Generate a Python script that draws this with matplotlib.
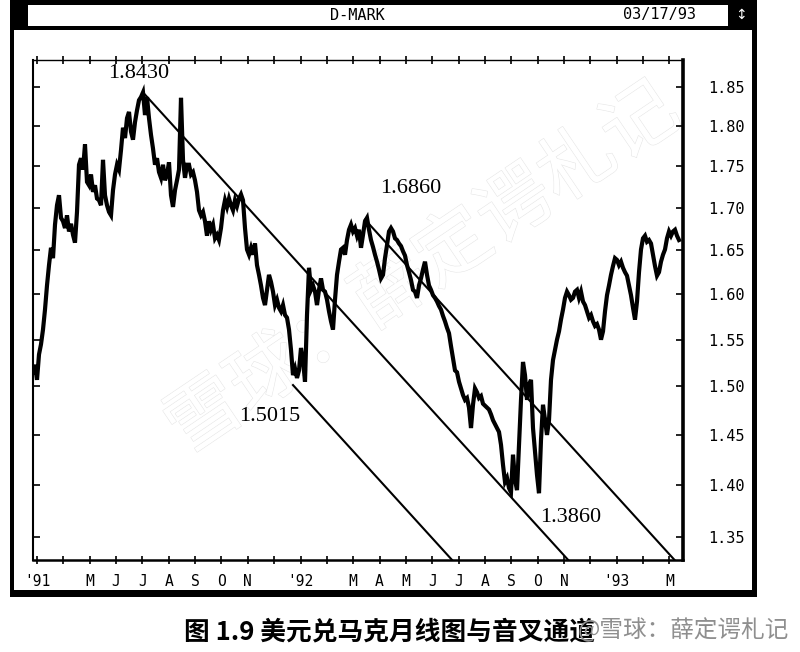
import numpy as np
import matplotlib
matplotlib.use("Agg")
import matplotlib.pyplot as plt
from matplotlib.patches import Rectangle
import matplotlib.patheffects as pe

# ---------------- data ----------------
# D-MARK price, one sample per bar, Jan 1991 .. Mar 1993
PRICE = [
    1.515, 1.523, 1.507, 1.534, 1.545, 1.561, 1.583, 1.610, 1.633, 1.653,
    1.641, 1.680, 1.703, 1.715, 1.688, 1.684, 1.676, 1.691, 1.672, 1.681,
    1.668, 1.659, 1.695, 1.752, 1.760, 1.746, 1.777, 1.731, 1.727, 1.740,
    1.719, 1.727, 1.711, 1.709, 1.703, 1.758, 1.715, 1.703, 1.695, 1.691,
    1.721, 1.740, 1.752, 1.746, 1.770, 1.798, 1.785, 1.810, 1.818, 1.793,
    1.783, 1.805, 1.820, 1.833, 1.837, 1.843, 1.814, 1.837, 1.810, 1.789,
    1.772, 1.752, 1.760, 1.743, 1.736, 1.752, 1.733, 1.740, 1.755, 1.715,
    1.701, 1.721, 1.733, 1.746, 1.836, 1.758, 1.736, 1.752, 1.752, 1.740,
    1.743, 1.733, 1.719, 1.697, 1.691, 1.695, 1.684, 1.667, 1.684, 1.674,
    1.680, 1.664, 1.668, 1.662, 1.676, 1.697, 1.709, 1.701, 1.711, 1.703,
    1.697, 1.709, 1.702, 1.711, 1.716, 1.709, 1.676, 1.651, 1.645, 1.653,
    1.645, 1.658, 1.633, 1.622, 1.610, 1.596, 1.588, 1.605, 1.622, 1.614,
    1.603, 1.588, 1.594, 1.585, 1.581, 1.588, 1.577, 1.574, 1.561, 1.539,
    1.512, 1.519, 1.509, 1.517, 1.541, 1.528, 1.505, 1.577, 1.630, 1.605,
    1.610, 1.603, 1.588, 1.605, 1.618, 1.605, 1.603, 1.594, 1.581, 1.570,
    1.561, 1.594, 1.622, 1.637, 1.651, 1.653, 1.645, 1.662, 1.674, 1.680,
    1.672, 1.676, 1.667, 1.674, 1.653, 1.668, 1.684, 1.688, 1.674, 1.662,
    1.654, 1.645, 1.637, 1.628, 1.618, 1.622, 1.641, 1.656, 1.672, 1.676,
    1.672, 1.664, 1.662, 1.658, 1.655, 1.649, 1.644, 1.633, 1.625, 1.616,
    1.605, 1.603, 1.596, 1.610, 1.618, 1.628, 1.637, 1.622, 1.610, 1.605,
    1.599, 1.596, 1.592, 1.587, 1.583, 1.576, 1.570, 1.563, 1.557, 1.543,
    1.530, 1.517, 1.515, 1.505, 1.498, 1.491, 1.486, 1.488, 1.478, 1.457,
    1.481, 1.498, 1.494, 1.488, 1.490, 1.482, 1.480, 1.478, 1.476, 1.471,
    1.465, 1.461, 1.457, 1.453, 1.440, 1.420, 1.403, 1.407, 1.397, 1.393,
    1.430, 1.405, 1.395, 1.440, 1.486, 1.526, 1.512, 1.486, 1.502, 1.507,
    1.457, 1.433, 1.410, 1.392, 1.445, 1.481, 1.465, 1.450, 1.465, 1.507,
    1.528, 1.539, 1.550, 1.559, 1.572, 1.583, 1.596, 1.603, 1.599, 1.594,
    1.596, 1.603, 1.605, 1.596, 1.603, 1.592, 1.588, 1.581, 1.574, 1.577,
    1.570, 1.565, 1.567, 1.561, 1.550, 1.559, 1.581, 1.599, 1.610, 1.622,
    1.632, 1.641, 1.639, 1.633, 1.637, 1.630, 1.625, 1.621, 1.610, 1.599,
    1.585, 1.572, 1.592, 1.625, 1.651, 1.664, 1.667, 1.660, 1.662, 1.658,
    1.645, 1.632, 1.621, 1.625, 1.637, 1.645, 1.651, 1.664, 1.672, 1.667,
    1.672, 1.674, 1.667, 1.662,
]

X_TICK_LABELS = ["'91", "", "M", "J", "J", "A", "S", "O", "N", "", "'92", "",
                 "M", "A", "M", "J", "J", "A", "S", "O", "N", "", "'93", "", "M"]
Y_TICKS = [1.35, 1.40, 1.45, 1.50, 1.55, 1.60, 1.65, 1.70, 1.75, 1.80, 1.85]

# Andrews pitchfork pivots (bar index, price, label)
PIVOT_BARS = [55, 130, 166]
PIVOT_PRICES = [1.8430, 1.5015, 1.6860]
PIVOT_LABELS = ["1.8430", "1.5015", "1.6860"]
LOW_LABEL = "1.3860"
CHANNEL_SLOPE = -0.00154   # change of ln(price) per bar

TITLE = "D-MARK"
DATE = "03/17/93"
CAPTION = "图 1.9 美元兑马克月线图与音叉通道"
WATERMARK = "@雪球：薛定谔札记"

# ---------------- layout ----------------
W, H = 800, 652
fig = plt.figure(figsize=(W / 100, H / 100), dpi=100)
fig.patch.set_facecolor("white")

def fx(x):
    return x / W

def fy(y):
    return 1 - y / H

def prect(x0, y0, x1, y1, color, z=0):
    fig.add_artist(Rectangle((fx(x0), fy(y1)), (x1 - x0) / W, (y1 - y0) / H,
                             transform=fig.transFigure, facecolor=color,
                             edgecolor="none", zorder=z))

# window chrome
prect(10, 0, 757, 30, "black")
prect(28, 5, 728, 26, "white", 1)
prect(10, 0, 14, 597, "black")
prect(752, 0, 757, 597, "black")
prect(10, 590, 757, 597, "black")
mono = "DejaVu Sans Mono"
fig.text(fx(357), fy(15), TITLE, ha="center", va="center", family=mono, size=11, zorder=3)
fig.text(fx(660), fy(15), DATE, ha="center", va="center", family=mono, size=11, zorder=3)
fig.text(fx(741), fy(15), "\u2195", ha="center", va="center", family="DejaVu Sans",
         size=10, color="white", zorder=3)

# axes
ax = fig.add_axes([fx(33), fy(560), (683 - 33) / W, (560 - 60) / H])
ax.set_yscale("log")
ax.set_xlim(0, 325)
ax.set_ylim(1.3284, 1.8853)

bars = np.arange(len(PRICE))
ax.plot(bars, PRICE, color="black", lw=3.0, solid_joinstyle="miter", zorder=3)

# pitchfork lines
for b, p in zip(PIVOT_BARS, PIVOT_PRICES):
    xs = np.array([b, b + 320])
    ys = p * np.exp(CHANNEL_SLOPE * (xs - b))
    ax.plot(xs, ys, color="black", lw=1.5, zorder=2)

serif = "Liberation Serif"
offsets = {"1.8430": (-4, 19), "1.5015": (-23, -31), "1.6860": (46, 31)}
for b, p, lab in zip(PIVOT_BARS, PIVOT_PRICES, PIVOT_LABELS):
    ax.annotate(lab, (b, p), xytext=offsets[lab], textcoords="offset pixels",
                ha="center", va="center", family=serif, size=16, zorder=4)
low_bar = int(np.argmin(PRICE))
ax.annotate(LOW_LABEL, (low_bar, PRICE[low_bar]), xytext=(32, -24),
            textcoords="offset pixels", ha="center", va="center",
            family=serif, size=16, zorder=4)

# faint diagonal watermark
ax.text(0.6, 0.58, WATERMARK[1:], transform=ax.transAxes, rotation=34,
        ha="center", va="center", size=54, color="white",
        family=["Noto Sans CJK SC", "DejaVu Sans"], zorder=1,
        path_effects=[pe.withStroke(linewidth=0.8, foreground="#e6e6e6")])

# ticks
tick_pos = [2 + 13.175 * k for k in range(len(X_TICK_LABELS))]
ax.set_xticks(tick_pos)
ax.set_xticklabels(X_TICK_LABELS, family=mono, size=10.5)
ax.tick_params(axis="x", which="major", direction="inout", length=6, width=1.2,
               top=True, bottom=True, labelbottom=True, labeltop=False, pad=7)

ax.yaxis.set_major_locator(matplotlib.ticker.FixedLocator(Y_TICKS))
ax.yaxis.set_minor_locator(matplotlib.ticker.NullLocator())
ax.yaxis.set_major_formatter(matplotlib.ticker.FuncFormatter(lambda v, _: f"{v:.2f}"))
ax.yaxis.tick_right()
ax.tick_params(axis="y", which="major", direction="in", length=5, width=1.2,
               left=True, right=True, labelright=True, labelleft=False, pad=18)
for t in ax.get_yticklabels():
    t.set_family(mono)
    t.set_size(11)

ax.spines["left"].set_linewidth(1.5)
ax.spines["bottom"].set_linewidth(1.8)
ax.spines["right"].set_linewidth(2.6)
ax.spines["top"].set_linewidth(1.0)

# caption
cjk = ["Noto Sans CJK SC", "DejaVu Sans"]
fig.text(fx(390), fy(632), CAPTION, ha="center", va="center", family=cjk,
         weight="bold", size=18.5)
fig.text(fx(683), fy(630), WATERMARK, ha="center", va="center", family=cjk,
         size=17, color="#8f8f8f")

fig.savefig("out.png", dpi=100, facecolor="white")
